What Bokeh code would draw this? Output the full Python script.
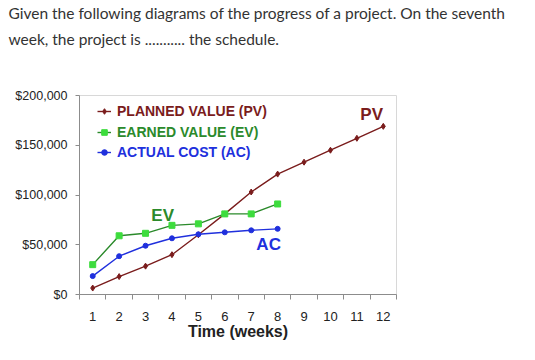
from bokeh.plotting import figure
from bokeh.models import (Range1d, FixedTicker, NumeralTickFormatter, Label, Legend, LegendItem, Title)
from bokeh.embed import file_html
from bokeh.resources import INLINE

# ---- data ----
weeks_pv = [1, 2, 3, 4, 5, 6, 7, 8, 9, 10, 11, 12]
pv = [6500, 18000, 28500, 40000, 60000, 81000, 103000, 121000, 133000, 145000, 157000, 169000]
weeks_ev = [1, 2, 3, 4, 5, 6, 7, 8]
ev = [30000, 59000, 61500, 69500, 71000, 81000, 81000, 91000]
weeks_ac = [1, 2, 3, 4, 5, 6, 7, 8]
ac = [18500, 38500, 49000, 56500, 60500, 62500, 64500, 66000]
y_ticks = [0, 50000, 100000, 150000, 200000]
x_ticks = list(range(1, 13))

title_line1 = "Given the following diagrams of the progress of a project. On the seventh"
title_line2 = "week, the project is ........... the schedule."

PV_C = "#7a1c1c"
EV_C = "#2b8a2b"
EV_M = "#3ddc3d"
AC_C = "#2030dd"

p = figure(width=535, height=360, output_backend="svg", toolbar_location=None, title=None,
           x_range=Range1d(0.5, 12.5), y_range=Range1d(0, 200000),
           min_border_left=79, min_border_right=139, min_border_top=5, min_border_bottom=66)
p.grid.visible = False
p.outline_line_color = "#d8d8d8"
p.background_fill_color = "white"
p.border_fill_color = "white"

# axes
p.xaxis.ticker = FixedTicker(ticks=x_ticks, minor_ticks=[i + 0.5 for i in range(0, 13)])
p.xaxis.major_tick_out = 0
p.xaxis.major_tick_in = 0
p.xaxis.minor_tick_out = 5
p.xaxis.minor_tick_in = 0
p.xaxis.major_label_standoff = 12
p.xaxis.major_label_text_font = "Liberation Sans"
p.xaxis.major_label_text_font_size = "13px"
p.xaxis.major_label_text_color = "#222222"
p.xaxis.axis_label = "Time (weeks)"
p.xaxis.axis_label_text_font = "Liberation Sans"
p.xaxis.axis_label_text_font_style = "bold"
p.xaxis.axis_label_text_font_size = "16px"
p.xaxis.axis_label_text_color = "#222222"
p.xaxis.axis_label_standoff = -1
p.xaxis.axis_line_color = "#8c8c8c"
p.xaxis.minor_tick_line_color = "#8c8c8c"

p.yaxis.ticker = FixedTicker(ticks=y_ticks, minor_ticks=[])
p.yaxis.formatter = NumeralTickFormatter(format="$0,0")
p.yaxis.major_tick_out = 4
p.yaxis.major_tick_in = 0
p.yaxis.major_label_standoff = 8
p.yaxis.major_label_text_font = "Liberation Sans"
p.yaxis.major_label_text_font_size = "12.5px"
p.yaxis.major_label_text_color = "#222222"
p.yaxis.axis_line_color = "#8c8c8c"
p.yaxis.major_tick_line_color = "#8c8c8c"

# series
r_pv = p.line(weeks_pv, pv, line_color=PV_C, line_width=1.4)
m_pv = p.scatter(weeks_pv, pv, marker="diamond", size=6, fill_color=PV_C, line_color=PV_C)
r_ev = p.line(weeks_ev, ev, line_color=EV_C, line_width=1.4)
m_ev = p.scatter(weeks_ev, ev, marker="square", size=6, fill_color=EV_M, line_color=EV_M)
r_ac = p.line(weeks_ac, ac, line_color=AC_C, line_width=1.4)
m_ac = p.scatter(weeks_ac, ac, marker="circle", size=5, fill_color=AC_C, line_color=AC_C)

# legends (one per series so each label keeps its colour)
leg_specs = [("PLANNED VALUE (PV)", [r_pv, m_pv], PV_C, 173),
             ("EARNED VALUE (EV)", [r_ev, m_ev], EV_C, 152.5),
             ("ACTUAL COST (AC)", [r_ac, m_ac], AC_C, 132)]
for text, rs, col, yy in leg_specs:
    lg = Legend(items=[LegendItem(label=text, renderers=rs)], location=(18, yy),
                glyph_width=14, glyph_height=20, label_height=20, label_standoff=6,
                padding=0, margin=0, spacing=0, border_line_color=None,
                background_fill_alpha=0,
                label_text_font="Liberation Sans", label_text_font_style="bold",
                label_text_font_size="14px", label_text_color=col)
    p.add_layout(lg, "center")

# in-chart series labels
for txt, xx, yy, col in [("PV", 11.56, 181000, PV_C), ("EV", 3.65, 79000, EV_C), ("AC", 7.66, 50000, AC_C)]:
    p.add_layout(Label(x=xx, y=yy, text=txt, text_align="center", text_baseline="middle",
                       text_font="Liberation Sans", text_font_style="bold", text_font_size="17px",
                       text_color=col))

# heading lines (added nearest-first); first one is an empty spacer
p.add_layout(Title(text=" ", align="left", standoff=23,
                   text_font="Lato", text_font_size="15.5px", text_color="#333333"), "above")
p.add_layout(Title(text=title_line2, align="left", offset=-71, standoff=9,
                   text_font="Lato", text_font_size="15.5px", text_font_style="normal",
                   text_color="#333333"), "above")
p.add_layout(Title(text=title_line1, align="left", offset=-71, standoff=3,
                   text_font="Lato", text_font_size="15.5px", text_font_style="normal",
                   text_color="#333333"), "above")

open("out.html", "w").write(file_html(p, INLINE))
